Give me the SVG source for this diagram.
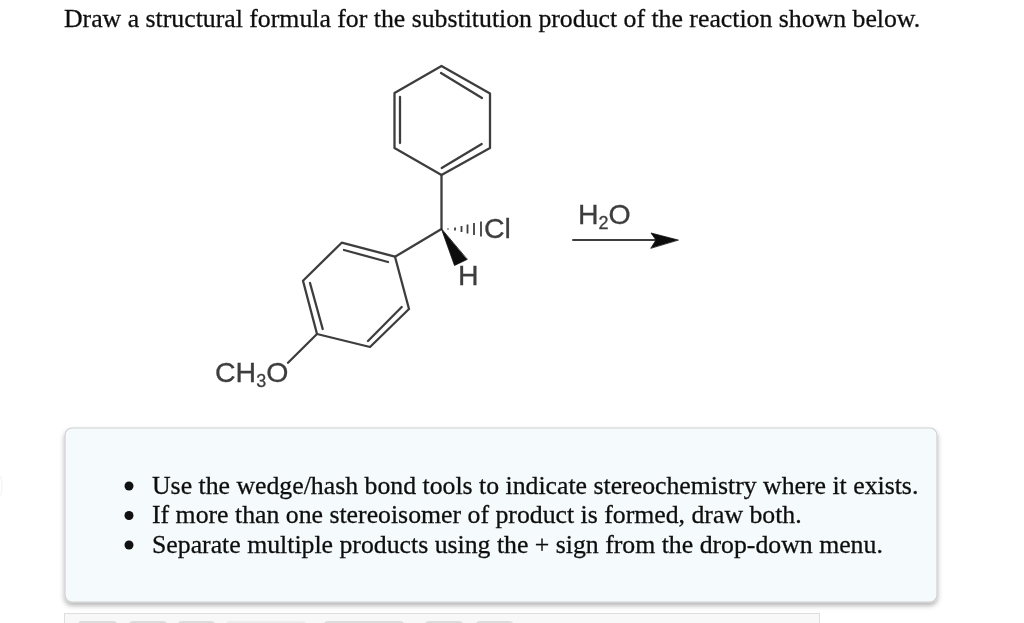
<svg xmlns="http://www.w3.org/2000/svg" width="1024" height="623" viewBox="0 0 1024 623">
<style>
.serif{font-family:"Liberation Serif","Times New Roman",serif;font-size:25.78px;fill:#111;stroke:#111;stroke-width:0.3}
.chem{font-family:"Liberation Sans",Arial,sans-serif;font-size:28.5px;fill:#3c3c3c;stroke:#3c3c3c;stroke-width:0.3}
.sub{font-size:18px}
.bond{stroke:#3e3e3e;stroke-width:2.3;fill:none;stroke-linecap:round;stroke-linejoin:round}
.btn{fill:#dcdcdc}
</style>
<defs>
<filter id="shadow" x="-5%" y="-10%" width="110%" height="125%"><feDropShadow dx="0" dy="3" stdDeviation="2.5" flood-color="#000" flood-opacity="0.3"/></filter>
<filter id="soft" x="-5%" y="-5%" width="110%" height="110%"><feGaussianBlur stdDeviation="0.45"/></filter>
</defs>
<rect width="1024" height="623" fill="#fff"/>
<path d="M0.5 476Q3.500 486 0.5 496" fill="none" stroke="#f6f6f6" stroke-width="1.5"/>
<text id="title" class="serif" x="64" y="26.500" filter="url(#soft)">Draw a structural formula for the substitution product of the reaction shown below.</text>
<g id="connectors" class="bond" filter="url(#soft)">
<path id="ring-top" d="M441.5 66L490 93.5V148L441.5 175L394.5 148V93Z"/>
<path d="M441 73L482 98M400 97V143M441.7 168L481.7 144"/>
<path d="M441.5 175V229L395 256.7"/>
<path id="ring-bottom" d="M395 256.7L341.7 242.7L303 280.7L317 334L370 347L409 309Z"/>
<path d="M344 250L388 262M310 283L322.7 329M368 341L401.7 307M317 334L288 362.7"/>
<polygon points="441.500,229 454.500,265.500 467,259.500" fill="#111" stroke="#111" stroke-width="0.8"/>
<path d="M448 228.5V229.5M455 227.5V230.5M461.5 226V232M467.5 224.5V233.5M474 223V235M481 221.5V236.5" stroke-linecap="butt" style="stroke-width:1.8"/>
<path d="M573 240H660" style="stroke-width:2"/>
<polygon points="678,240 651,233 656,240 651,248" fill="#111" stroke="#111" stroke-width="0.8"/>
</g>
<g id="label-cl" filter="url(#soft)"><text class="chem" x="484" y="238">Cl</text></g>
<g id="label-h" filter="url(#soft)"><text class="chem" x="458" y="285">H</text></g>
<g id="label-ch3o" filter="url(#soft)"><text class="chem" x="215" y="382">CH<tspan class="sub" dy="5">3</tspan><tspan dy="-5">O</tspan></text></g>
<g id="label-h2o" filter="url(#soft)"><text class="chem" x="578" y="224">H<tspan class="sub" dy="5">2</tspan><tspan dy="-5">O</tspan></text></g>
<g id="instructions">
<rect x="65" y="428" width="872" height="174" rx="7" fill="#f5fbfc" stroke="#cfcfcf" stroke-width="1.2" filter="url(#shadow)"/>
<circle cx="129" cy="486" r="4.5" fill="#111"/>
<circle cx="129" cy="515.500" r="4.5" fill="#111"/>
<circle cx="129" cy="545" r="4.5" fill="#111"/>
<g filter="url(#soft)">
<text class="serif" x="152" y="494">Use the wedge/hash bond tools to indicate stereochemistry where it exists.</text>
<text class="serif" x="152" y="523">If more than one stereoisomer of product is formed, draw both.</text>
<text class="serif" x="152" y="553">Separate multiple products using the + sign from the drop-down menu.</text>
</g>
</g>
<g id="toolbar" filter="url(#soft)">
<rect x="64.500" y="613.500" width="755" height="20" fill="#f8f8f8" stroke="#dedede"/>
<rect class="btn" x="77" y="621" width="41" height="12" rx="5"/>
<rect class="btn" x="128" y="621" width="40" height="12" rx="5"/>
<rect class="btn" x="177" y="621" width="39" height="12" rx="5"/>
<rect x="225" y="621" width="82" height="12" rx="5" fill="#ececec"/>
<rect class="btn" x="323" y="621" width="82" height="12" rx="5"/>
<rect class="btn" x="424" y="621" width="40" height="12" rx="5"/>
<rect class="btn" x="475" y="621" width="39" height="12" rx="5"/>
</g>
</svg>
